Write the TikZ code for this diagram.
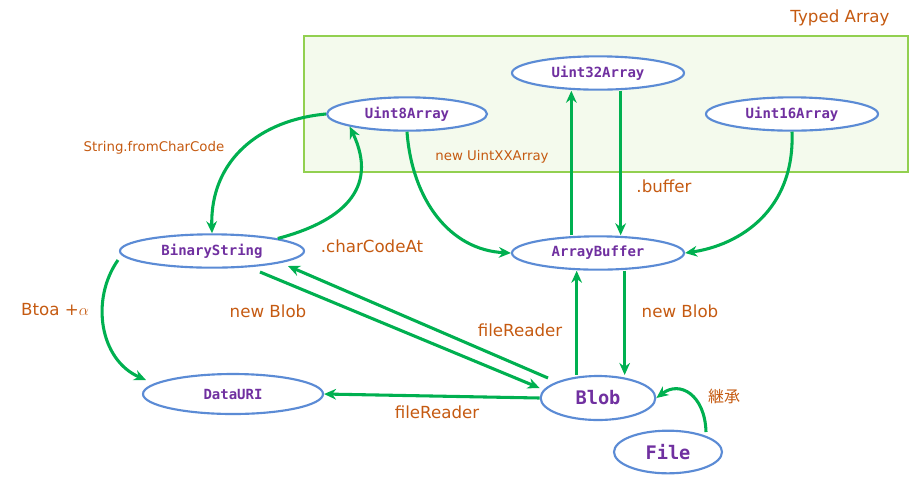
\documentclass[tikz,border=0pt]{standalone}
\usepackage{fontspec}
\setmainfont{DejaVu Sans}
\newfontfamily\nodefont{DejaVu Sans Mono}
\newfontfamily\cjk{Noto Sans CJK JP}
\usetikzlibrary{shapes.geometric,arrows.meta}
\definecolor{grn}{HTML}{00B050}
\definecolor{bxg}{HTML}{92D050}
\definecolor{blu}{HTML}{5B8BD5}
\definecolor{pur}{HTML}{7030A0}
\definecolor{brn}{HTML}{C55A11}
\begin{document}
\begin{tikzpicture}[x=0.75pt,y=-0.75pt,
 el/.style={ellipse,draw=blu,line width=1.6pt,fill=white,minimum width=#1,minimum height=25pt,inner sep=0pt,font=\nodefont\bfseries\fontsize{10.5}{12}\selectfont,text=pur},
 ar/.style={draw=grn,line width=2.3pt,-{Stealth[length=9pt,width=8pt]}},
 lb/.style={text=brn,font=\fontsize{12.5}{14}\selectfont}]
\useasboundingbox (0,0) rectangle (920,480);
\draw[bxg,line width=1.3pt,fill=bxg!10] (304,36) rectangle (908,172);
\node[lb] at (840,18) {Typed Array};
\node[el=129pt] (u32) at (598,73) {Uint32Array};
\node[el=120pt] (u8) at (407,114) {Uint8Array};
\node[el=129pt] (u16) at (792,114) {Uint16Array};
\node[el=138pt] (bs) at (212,251) {BinaryString};
\node[el=135pt,minimum height=30pt] (du) at (233,394) {DataURI};
\node[el=86pt,minimum height=33pt,font=\nodefont\bfseries\fontsize{14}{16}\selectfont] (blob) at (598,398) {Blob};
\node[el=81pt,minimum height=32pt,font=\nodefont\bfseries\fontsize{14}{16}\selectfont] (file) at (668,452) {File};
\node[el=129pt] (ab) at (598,253) {ArrayBuffer};
\draw[ar] (u8.west) .. controls (260,120) and (210,160) .. (bs.north);
\node[lb,font=\fontsize{10}{12}\selectfont] at (154,148) {String.fromCharCode};
\draw[ar] (bs.north east) .. controls (340,222) and (380,190) .. (u8.south west);
\node[lb] at (372,246) {.charCodeAt};
\draw[ar] (u8.south) .. controls (412,200) and (450,250) .. (ab.west);
\node[text=brn,font=\fontsize{10}{12}\selectfont] at (492,157) {new UintXXArray};
\draw[ar] ([xshift=-20pt]ab.north) -- ([xshift=-20pt]u32.south);
\draw[ar] ([xshift=17pt]u32.south) -- ([xshift=17pt]ab.north);
\node[lb] at (664,186) {.buffer};
\draw[ar] (u16.south) .. controls (795,210) and (740,245) .. (ab.east);
\draw[ar] ([xshift=20pt]ab.south) -- ([xshift=20pt]blob.north);
\node[lb] at (680,311) {new Blob};
\draw[ar] ([xshift=-16pt]blob.north) -- ([xshift=-16pt]ab.south);
\node[lb] at (520,330) {fileReader};
\draw[ar] (260,272) -- (blob.west |- 0,388);
\draw[ar] (548,378) -- (288,266);
\node[lb] at (268,311) {new Blob};
\draw[ar] (blob.west) -- (du.east);
\node[lb] at (437,412) {fileReader};
\draw[ar] (118,260) .. controls (90,300) and (100,360) .. (146,380);
\node[lb] at (55,310) {Btoa +$\alpha$};
\draw[ar] (706,432) .. controls (705,395) and (680,380) .. (blob.east);
\node[lb,font=\cjk\fontsize{12}{14}\selectfont] at (724,396) {継承};
\end{tikzpicture}
\end{document}
